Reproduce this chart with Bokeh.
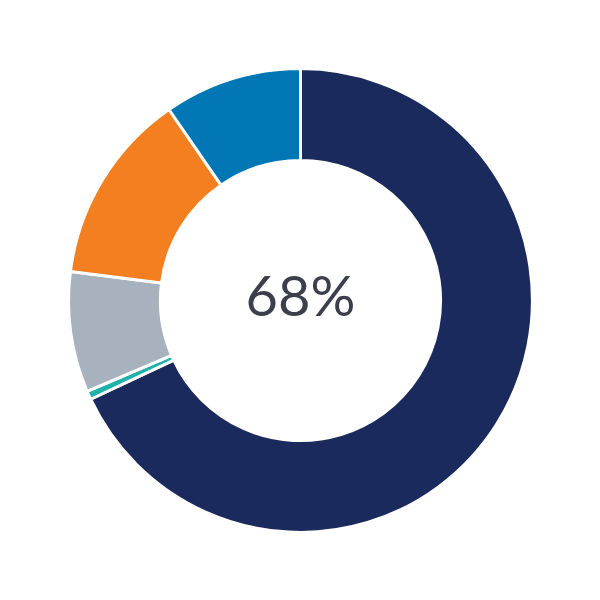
import numpy as np
from bokeh.plotting import figure
from bokeh.models import ColumnDataSource
from bokeh.core.properties import value
from bokeh.embed import file_html
from bokeh.resources import INLINE

categories = ["A", "B", "C", "D", "E"]
shares = [68.0, 0.6, 8.4, 13.4, 9.6]
colors = ["#1b2a5c", "#20b2aa", "#a8b2bf", "#f37f21", "#0077b5"]
center_label = "68%"

frac = np.array(shares) / sum(shares)
cum = np.concatenate([[0], np.cumsum(frac)])
# clockwise from 12 o'clock
start = np.pi / 2 - cum[1:] * 2 * np.pi
end = np.pi / 2 - cum[:-1] * 2 * np.pi

src = ColumnDataSource(dict(cat=categories, start=start, end=end, color=colors))

p = figure(width=600, height=600, x_range=(-1, 1), y_range=(-1, 1),
           output_backend="svg", toolbar_location=None, min_border=0)
p.axis.visible = False
p.grid.visible = False
p.outline_line_color = None
p.background_fill_color = "white"

p.annular_wedge(x=0, y=0, inner_radius=0.467, outer_radius=0.773,
                start_angle="start", end_angle="end", fill_color="color",
                line_color="white", line_width=3, source=src)

p.text(x=[0], y=[0.02], text=[center_label], text_align="center", text_baseline="middle",
       text_font=value("Lato"), text_font_size="56px", text_color="#3a3f4b")

open("out.html", "w").write(file_html(p, INLINE))
